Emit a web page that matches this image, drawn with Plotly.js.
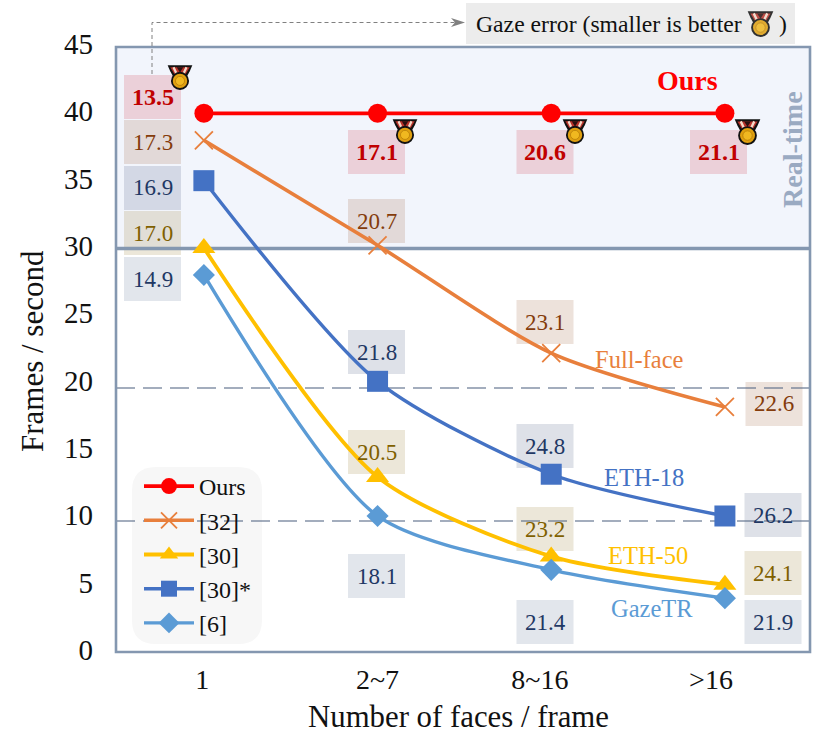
<!DOCTYPE html>
<html><head><meta charset="utf-8">
<script src="https://cdn.plot.ly/plotly-3.0.1.min.js"></script>
<style>html,body{margin:0;padding:0;background:#fff}#c{width:828px;height:741px}</style></head>
<body><div id="c"></div>
<script>
const categories = ['1','2~7','8~16','>16'];
const xIndex = [0,1,2,3];
const ours = [40,40,40,40];
const fullFace = [38,30.2,22.2,18.2];
const eth50 = [30,13,7.1,5];
const eth18 = [35,20.1,13.2,10.1];
const gazeTR = [28,10.1,6.1,4];
const yTicks = [0,5,10,15,20,25,30,35,40,45];
const xTickPos = [-0.01,1.0,1.935,2.92];

// error labels: text, colour family, centre position on the chart (px)
const errText = ['13.5','17.3','16.9','17.0','14.9','17.1','20.7','21.8','20.5','18.1','20.6','23.1','24.8','23.2','21.4','21.1','22.6','26.2','24.1','21.9'];
const errKind = ['o','f','b','y','g','o','f','b','y','g','o','f','b','y','g','o','f','b','y','g'];
const errPx   = [152.5,152.5,152.5,152.5,152.5,376.5,376.5,376.5,376.5,376.5,545,545,545,545,545,718.5,774,773,773,773];
const errPy   = [97,142,188,233,279,152,221,352,452,576,152,322,446,529,622,152,404,515,573,622];
const fillOf = {o:'rgba(192,0,20,0.15)',f:'rgba(132,60,12,0.15)',b:'rgba(31,56,100,0.15)',y:'rgba(127,96,0,0.15)',g:'rgba(50,80,120,0.14)'};
const textOf = {o:'#c00000',f:'#843c0c',b:'#1f3864',y:'#7f6000',g:'#1f3864'};

const W=828,H=741,L=116,R=810,T=46,B=652;
const PW=R-L,PH=B-T;
const serif='"Liberation Serif","Times New Roman",serif';
const fx=p=>(p-L)/PW, fy=p=>(B-p)/PH;

const medalSvg = 'data:image/svg+xml;utf8,'+encodeURIComponent(
`<svg xmlns="http://www.w3.org/2000/svg" viewBox="0 0 40 40">
<path d="M1 2H39L35 11L28 24H12L5 11Z" fill="#111"/>
<path d="M5 5H35L32 10L25 22H15L8 10Z" fill="#b8322a"/>
<path d="M10 5L18 22M30 5L22 22" stroke="#f3d9c8" stroke-width="3.5"/>
<path d="M15 5H25L20 13Z" fill="#2a1010"/>
<circle cx="20" cy="26" r="12.5" fill="#e0a010" stroke="#111" stroke-width="2.8"/>
<circle cx="20" cy="26" r="7" fill="#f0b820" stroke="#b57c08" stroke-width="1.2"/>
</svg>`);
const medal=(x,y,w,op)=>({source:medalSvg,xref:'paper',yref:'paper',x:fx(x),y:fy(y),sizex:w/PW,sizey:w/PH,xanchor:'left',yanchor:'top',sizing:'stretch',layer:'above',opacity:op||1});

function tr(name,y,color,sym,size,lw){
  return {x:xIndex,y:y,name:name,mode:'lines+markers',type:'scatter',legendgroup:name,
    line:{color:color,width:lw,shape:'spline',smoothing:0.75},
    marker:{symbol:sym,size:size,color:color,line:sym==='x-thin'?{color:color,width:1.8}:{width:0}},cliponaxis:false};
}
const data=[
  tr('Ours',ours,'#ff0000','circle',19,3.8),
  tr('[32]',fullFace,'#e87f3c','x-thin',18,3.6),
  tr('[30]',eth50,'#ffc000','triangle-up',20,3.8),
  tr('[30]*',eth18,'#4472c4','square',21,3.4),
  tr('[6]',gazeTR,'#5b9bd5','diamond',17,3.4)
];

const shapes=[
  {type:'rect',xref:'paper',yref:'paper',x0:fx(L),x1:fx(R),y0:fy(248),y1:fy(47),fillcolor:'#f2f5fc',line:{width:0},layer:'below'},
  {type:'rect',xref:'paper',yref:'paper',x0:fx(466),x1:fx(795),y0:fy(44),y1:fy(3),fillcolor:'#ececec',line:{width:0},layer:'below'},
  {type:'path',xref:'paper',yref:'paper',layer:'below',fillcolor:'#f7f7f7',line:{width:0},
   path:`M${fx(156)} ${fy(467)} L${fx(238)} ${fy(467)} Q${fx(262)} ${fy(467)} ${fx(262)} ${fy(491)} L${fx(262)} ${fy(620)} Q${fx(262)} ${fy(644)} ${fx(238)} ${fy(644)} L${fx(156)} ${fy(644)} Q${fx(132)} ${fy(644)} ${fx(132)} ${fy(620)} L${fx(132)} ${fy(491)} Q${fx(132)} ${fy(467)} ${fx(156)} ${fy(467)} Z`}
];
errText.forEach((t,i)=>{
  shapes.push({type:'rect',xref:'paper',yref:'paper',layer:'below',fillcolor:fillOf[errKind[i]],line:{width:0},
    x0:fx(errPx[i]-28.5),x1:fx(errPx[i]+28.5),y0:fy(errPy[i]+22),y1:fy(errPy[i]-22)});
});
shapes.push(
  {type:'line',xref:'paper',yref:'paper',x0:fx(L),x1:fx(R),y0:fy(388),y1:fy(388),line:{color:'rgba(80,100,130,0.7)',width:1.6,dash:'19px 8px'},layer:'below'},
  {type:'line',xref:'paper',yref:'paper',x0:fx(L),x1:fx(R),y0:fy(521),y1:fy(521),line:{color:'rgba(80,100,130,0.7)',width:1.6,dash:'19px 8px'},layer:'below'},
  {type:'line',xref:'paper',yref:'paper',x0:fx(L),x1:fx(R),y0:fy(248.5),y1:fy(248.5),line:{color:'#8497b0',width:3.5},layer:'below'},
  {type:'rect',xref:'paper',yref:'paper',x0:fx(L),x1:fx(R),y0:fy(652),y1:fy(47),line:{color:'#8497b0',width:2.6},fillcolor:'rgba(0,0,0,0)',layer:'above'},
  {type:'path',xref:'paper',yref:'paper',path:`M${fx(152)} ${fy(74)} L${fx(152)} ${fy(22.5)} L${fx(456)} ${fy(22.5)}`,line:{color:'#808080',width:1,dash:'4px 3px'},layer:'above'},
  {type:'path',xref:'paper',yref:'paper',path:`M${fx(451)} ${fy(18)} L${fx(465)} ${fy(22.5)} L${fx(451)} ${fy(27)} L${fx(455)} ${fy(22.5)} Z`,fillcolor:'#808080',line:{width:0},layer:'above'}
);

const ann=(text,x,y,size,color,extra)=>Object.assign({text:text,xref:'paper',yref:'paper',x:fx(x),y:fy(y),xanchor:'center',yanchor:'middle',showarrow:false,font:{family:serif,size:size,color:color}},extra||{});
const annotations=errText.map((t,i)=>{
  const o=errKind[i]==='o';
  return ann(o?'<b>'+t+'</b>':t,errPx[i],errPy[i],o?24:23,textOf[errKind[i]]);
});
annotations.push(
  ann('<b>Ours</b>',687,81,28,'#ff0000'),
  ann('Full-face',639,359,24.5,'#e87f3c'),
  ann('ETH-18',644,477,24.5,'#4472c4'),
  ann('ETH-50',648,555,24.5,'#ffc000'),
  ann('GazeTR',652,608,24.5,'#5b9bd5'),
  ann('<b>Real-time</b>',792,150,28,'#9aaac2',{textangle:-90}),
  ann('Gaze error (smaller is better',609,24,23.7,'#111111'),
  ann(')',783,24,23.7,'#111111'),
  ann('Frames / second',33,351,31,'#111111',{textangle:-90}),
  ann('Number of faces / frame',458,717,30.8,'#111111')
);

const layout={
  width:W,height:H,paper_bgcolor:'#fff',plot_bgcolor:'rgba(0,0,0,0)',
  margin:{l:L,r:W-R,t:T,b:H-B,pad:0},showlegend:true,hovermode:false,
  font:{family:serif,color:'#111'},
  xaxis:{type:'linear',range:[-0.506,3.49],tickmode:'array',tickvals:xTickPos,ticktext:categories,tickangle:0,showgrid:false,zeroline:false,showline:false,ticks:'',tickfont:{family:serif,size:28,color:'#111'},ticklabelstandoff:8,automargin:false},
  yaxis:{range:[0,45],tickmode:'array',tickvals:yTicks,ticktext:yTicks.map(String),showgrid:false,zeroline:false,showline:false,ticks:'',tickfont:{family:serif,size:29,color:'#111'},ticklabelstandoff:22,ticklabelshift:-2,automargin:false},
  legend:{x:fx(139),y:fy(464),xanchor:'left',yanchor:'top',bgcolor:'rgba(0,0,0,0)',borderwidth:0,font:{family:serif,size:24,color:'#111'},tracegroupgap:6.5,itemwidth:50,traceorder:'normal'},
  shapes:shapes,annotations:annotations,
  images:[medal(167,64,26),medal(392,118,26),medal(562,118,26),medal(734,118,27),medal(747,10,27,0.85)]
};
Plotly.newPlot('c',data,layout,{displayModeBar:false,staticPlot:true});
</script></body></html>
